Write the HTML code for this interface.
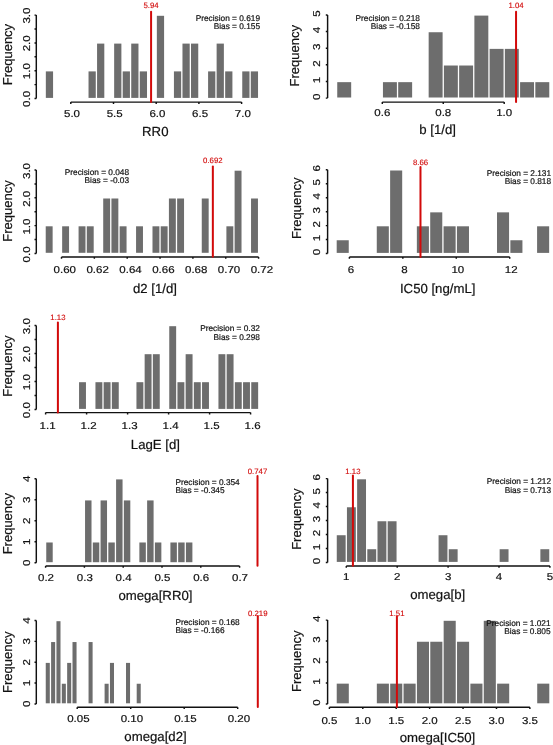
<!DOCTYPE html>
<html><head><meta charset="utf-8"><title>Histograms</title>
<style>
html,body{margin:0;padding:0;background:#fff;}
svg{display:block;will-change:transform;}
text{font-family:"Liberation Sans", sans-serif;text-rendering:geometricPrecision;fill:#111;stroke:#111;stroke-width:0.2px;}
.t{font-size:10.0px;letter-spacing:0.0px;}
.l{font-size:13.2px;}
.fq{font-size:13px;}
.p{font-size:8.3px;}
.r{font-size:7.8px;fill:#d20a0a;stroke:#d20a0a;stroke-width:0.12px;}
</style></head><body>
<svg width="553" height="745" viewBox="0 0 553 745">
<rect width="553" height="745" fill="#fff"/>
<g fill="#6d6d6d"><rect x="45.83" y="71.4" width="7.24" height="26.5"/><rect x="88.53" y="71.4" width="7.24" height="26.5"/><rect x="97.07" y="43.6" width="7.24" height="54.3"/><rect x="114.15" y="43.6" width="7.24" height="54.3"/><rect x="122.69" y="71.4" width="7.24" height="26.5"/><rect x="131.23" y="43.6" width="7.24" height="54.3"/><rect x="139.77" y="71.4" width="7.24" height="26.5"/><rect x="156.85" y="15.8" width="7.24" height="82.1"/><rect x="173.93" y="71.4" width="7.24" height="26.5"/><rect x="182.47" y="43.6" width="7.24" height="54.3"/><rect x="191.01" y="43.6" width="7.24" height="54.3"/><rect x="208.09" y="71.4" width="7.24" height="26.5"/><rect x="216.63" y="43.6" width="7.24" height="54.3"/><rect x="225.17" y="71.4" width="7.24" height="26.5"/><rect x="242.25" y="71.4" width="7.24" height="26.5"/><rect x="250.79" y="71.4" width="7.24" height="26.5"/></g>
<path d="M36.3 15.1V98.5M36.3 98.5H34.5M36.3 84.6H34.5M36.3 70.7H34.5M36.3 56.8H34.5M36.3 42.9H34.5M36.3 29H34.5M36.3 15.1H34.5M70.8 102.1H241.6M70.8 102.1V103.9M113.5 102.1V103.9M156.2 102.1V103.9M198.9 102.1V103.9M241.6 102.1V103.9" stroke="#111" stroke-width="1.45" fill="none"/>
<text class="t" transform="translate(29.5 98.5) rotate(-90) scale(1.15 1)" x="-0.4" text-anchor="middle">0.0</text>
<text class="t" transform="translate(29.5 70.7) rotate(-90) scale(1.15 1)" x="-0.4" text-anchor="middle">1.0</text>
<text class="t" transform="translate(29.5 42.9) rotate(-90) scale(1.15 1)" x="-0.4" text-anchor="middle">2.0</text>
<text class="t" transform="translate(29.5 15.1) rotate(-90) scale(1.15 1)" x="-0.4" text-anchor="middle">3.0</text>
<text class="t" transform="translate(72 116.8) scale(1.15 1)" text-anchor="middle">5.0</text>
<text class="t" transform="translate(114.7 116.8) scale(1.15 1)" text-anchor="middle">5.5</text>
<text class="t" transform="translate(157.4 116.8) scale(1.15 1)" text-anchor="middle">6.0</text>
<text class="t" transform="translate(200.1 116.8) scale(1.15 1)" text-anchor="middle">6.5</text>
<text class="t" transform="translate(242.8 116.8) scale(1.15 1)" text-anchor="middle">7.0</text>
<text class="l" x="155.3" y="135.6" text-anchor="middle">RR0</text>
<text class="fq" transform="translate(11.6 54.6) rotate(-90)" text-anchor="middle">Frequency</text>
<path d="M151.08 11.7V102" stroke="#d20a0a" stroke-width="2" stroke-linecap="round"/>
<text class="r" x="151.08" y="7.8" text-anchor="middle">5.94</text>
<text class="p" x="260" y="20.9" text-anchor="end">Precision = 0.619</text>
<text class="p" x="260" y="29" text-anchor="end">Bias = 0.155</text>
<g fill="#6d6d6d"><rect x="337.24" y="82.16" width="13.94" height="15.34"/><rect x="382.95" y="82.16" width="13.94" height="15.34"/><rect x="398.19" y="82.16" width="13.94" height="15.34"/><rect x="428.66" y="32.24" width="13.94" height="65.26"/><rect x="443.9" y="65.52" width="13.94" height="31.98"/><rect x="459.14" y="65.52" width="13.94" height="31.98"/><rect x="474.38" y="15.6" width="13.94" height="81.9"/><rect x="489.61" y="48.88" width="13.94" height="48.62"/><rect x="504.85" y="48.88" width="13.94" height="48.62"/><rect x="520.09" y="82.16" width="13.94" height="15.34"/><rect x="535.33" y="82.16" width="13.94" height="15.34"/></g>
<path d="M327.6 14.9V98.1M327.6 98.1H325.8M327.6 81.46H325.8M327.6 64.82H325.8M327.6 48.18H325.8M327.6 31.54H325.8M327.6 14.9H325.8M382.3 102.1H504.2M382.3 102.1V103.9M443.25 102.1V103.9M504.2 102.1V103.9" stroke="#111" stroke-width="1.45" fill="none"/>
<text class="t" transform="translate(320 98.1) rotate(-90) scale(1.15 1)" x="1.2" text-anchor="middle">0</text>
<text class="t" transform="translate(320 81.46) rotate(-90) scale(1.15 1)" x="1.2" text-anchor="middle">1</text>
<text class="t" transform="translate(320 64.82) rotate(-90) scale(1.15 1)" x="1.2" text-anchor="middle">2</text>
<text class="t" transform="translate(320 48.18) rotate(-90) scale(1.15 1)" x="1.2" text-anchor="middle">3</text>
<text class="t" transform="translate(320 31.54) rotate(-90) scale(1.15 1)" x="1.2" text-anchor="middle">4</text>
<text class="t" transform="translate(320 14.9) rotate(-90) scale(1.15 1)" x="1.2" text-anchor="middle">5</text>
<text class="t" transform="translate(382.3 116.3) scale(1.15 1)" text-anchor="middle">0.6</text>
<text class="t" transform="translate(443.25 116.3) scale(1.15 1)" text-anchor="middle">0.8</text>
<text class="t" transform="translate(504.2 116.3) scale(1.15 1)" text-anchor="middle">1.0</text>
<text class="l" x="437.7" y="134.3" text-anchor="middle">b [1/d]</text>
<text class="fq" transform="translate(298.8 55.8) rotate(-90)" text-anchor="middle">Frequency</text>
<path d="M516.05 11.7V102" stroke="#d20a0a" stroke-width="2" stroke-linecap="round"/>
<text class="r" x="516.05" y="7.5" text-anchor="middle">1.04</text>
<text class="p" x="419.9" y="20.7" text-anchor="end">Precision = 0.218</text>
<text class="p" x="419.9" y="28.7" text-anchor="end">Bias = -0.158</text>
<g fill="#6d6d6d"><rect x="45.72" y="226.3" width="6.91" height="26.5"/><rect x="62.15" y="226.3" width="6.91" height="26.5"/><rect x="78.58" y="226.3" width="6.91" height="26.5"/><rect x="86.79" y="226.3" width="6.91" height="26.5"/><rect x="103.21" y="198.5" width="6.91" height="54.3"/><rect x="111.43" y="198.5" width="6.91" height="54.3"/><rect x="119.64" y="226.3" width="6.91" height="26.5"/><rect x="136.06" y="226.3" width="6.91" height="26.5"/><rect x="152.49" y="226.3" width="6.91" height="26.5"/><rect x="160.7" y="226.3" width="6.91" height="26.5"/><rect x="168.91" y="198.5" width="6.91" height="54.3"/><rect x="177.13" y="198.5" width="6.91" height="54.3"/><rect x="201.76" y="198.5" width="6.91" height="54.3"/><rect x="226.4" y="226.3" width="6.91" height="26.5"/><rect x="234.61" y="170.7" width="6.91" height="82.1"/><rect x="251.04" y="198.5" width="6.91" height="54.3"/></g>
<path d="M36.3 170V253.4M36.3 253.4H34.5M36.3 239.5H34.5M36.3 225.6H34.5M36.3 211.7H34.5M36.3 197.8H34.5M36.3 183.9H34.5M36.3 170H34.5M61.5 256.9H258.6M61.5 256.9V258.7M94.35 256.9V258.7M127.2 256.9V258.7M160.05 256.9V258.7M192.9 256.9V258.7M225.75 256.9V258.7M258.6 256.9V258.7" stroke="#111" stroke-width="1.45" fill="none"/>
<text class="t" transform="translate(29.5 253.4) rotate(-90) scale(1.15 1)" x="-0.9" text-anchor="middle">0.0</text>
<text class="t" transform="translate(29.5 225.6) rotate(-90) scale(1.15 1)" x="-0.9" text-anchor="middle">1.0</text>
<text class="t" transform="translate(29.5 197.8) rotate(-90) scale(1.15 1)" x="-0.9" text-anchor="middle">2.0</text>
<text class="t" transform="translate(29.5 170) rotate(-90) scale(1.15 1)" x="-0.9" text-anchor="middle">3.0</text>
<text class="t" transform="translate(64.8 272.7) scale(1.15 1)" text-anchor="middle">0.60</text>
<text class="t" transform="translate(97.65 272.7) scale(1.15 1)" text-anchor="middle">0.62</text>
<text class="t" transform="translate(130.5 272.7) scale(1.15 1)" text-anchor="middle">0.64</text>
<text class="t" transform="translate(163.35 272.7) scale(1.15 1)" text-anchor="middle">0.66</text>
<text class="t" transform="translate(196.2 272.7) scale(1.15 1)" text-anchor="middle">0.68</text>
<text class="t" transform="translate(229.05 272.7) scale(1.15 1)" text-anchor="middle">0.70</text>
<text class="t" transform="translate(261.9 272.7) scale(1.15 1)" text-anchor="middle">0.72</text>
<text class="l" x="154.9" y="293.1" text-anchor="middle">d2 [1/d]</text>
<text class="fq" transform="translate(11.6 211) rotate(-90)" text-anchor="middle">Frequency</text>
<path d="M212.85 166.4V256.8" stroke="#d20a0a" stroke-width="2" stroke-linecap="round"/>
<text class="r" x="212.85" y="163.2" text-anchor="middle">0.692</text>
<text class="p" x="129.1" y="175.3" text-anchor="end">Precision = 0.048</text>
<text class="p" x="129.1" y="182.8" text-anchor="end">Bias = -0.03</text>
<g fill="#6d6d6d"><rect x="336.69" y="240.25" width="12.06" height="12.65"/><rect x="376.77" y="226.3" width="12.06" height="26.6"/><rect x="390.13" y="170.5" width="12.06" height="82.4"/><rect x="416.85" y="226.3" width="12.06" height="26.6"/><rect x="430.21" y="212.35" width="12.06" height="40.55"/><rect x="443.57" y="226.3" width="12.06" height="26.6"/><rect x="456.93" y="226.3" width="12.06" height="26.6"/><rect x="497.01" y="212.35" width="12.06" height="40.55"/><rect x="510.37" y="240.25" width="12.06" height="12.65"/><rect x="537.09" y="226.3" width="12.06" height="26.6"/></g>
<path d="M327.6 169.8V253.5M327.6 253.5H325.8M327.6 239.55H325.8M327.6 225.6H325.8M327.6 211.65H325.8M327.6 197.7H325.8M327.6 183.75H325.8M327.6 169.8H325.8M349.4 257H509.72M349.4 257V258.8M402.84 257V258.8M456.28 257V258.8M509.72 257V258.8" stroke="#111" stroke-width="1.45" fill="none"/>
<text class="t" transform="translate(320 253.5) rotate(-90) scale(1.15 1)" x="1.2" text-anchor="middle">0</text>
<text class="t" transform="translate(320 239.55) rotate(-90) scale(1.15 1)" x="1.2" text-anchor="middle">1</text>
<text class="t" transform="translate(320 225.6) rotate(-90) scale(1.15 1)" x="1.2" text-anchor="middle">2</text>
<text class="t" transform="translate(320 211.65) rotate(-90) scale(1.15 1)" x="1.2" text-anchor="middle">3</text>
<text class="t" transform="translate(320 197.7) rotate(-90) scale(1.15 1)" x="1.2" text-anchor="middle">4</text>
<text class="t" transform="translate(320 183.75) rotate(-90) scale(1.15 1)" x="1.2" text-anchor="middle">5</text>
<text class="t" transform="translate(320 169.8) rotate(-90) scale(1.15 1)" x="1.2" text-anchor="middle">6</text>
<text class="t" transform="translate(350.9 272.5) scale(1.15 1)" text-anchor="middle">6</text>
<text class="t" transform="translate(404.34 272.5) scale(1.15 1)" text-anchor="middle">8</text>
<text class="t" transform="translate(457.78 272.5) scale(1.15 1)" text-anchor="middle">10</text>
<text class="t" transform="translate(511.22 272.5) scale(1.15 1)" text-anchor="middle">12</text>
<text class="l" x="437.7" y="293" text-anchor="middle">IC50 [ng/mL]</text>
<text class="fq" transform="translate(300.8 208.25) rotate(-90)" text-anchor="middle">Frequency</text>
<path d="M420.48 166.9V256.9" stroke="#d20a0a" stroke-width="2" stroke-linecap="round"/>
<text class="r" x="420.48" y="164.6" text-anchor="middle">8.66</text>
<text class="p" x="551.1" y="176" text-anchor="end">Precision = 2.131</text>
<text class="p" x="551.1" y="184" text-anchor="end">Bias = 0.818</text>
<g fill="#6d6d6d"><rect x="79.05" y="382.2" width="6.9" height="26.7"/><rect x="95.45" y="382.2" width="6.9" height="26.7"/><rect x="103.65" y="382.2" width="6.9" height="26.7"/><rect x="111.85" y="382.2" width="6.9" height="26.7"/><rect x="136.45" y="382.2" width="6.9" height="26.7"/><rect x="144.65" y="354.2" width="6.9" height="54.7"/><rect x="152.85" y="354.2" width="6.9" height="54.7"/><rect x="169.25" y="326.2" width="6.9" height="82.7"/><rect x="177.45" y="382.2" width="6.9" height="26.7"/><rect x="185.65" y="354.2" width="6.9" height="54.7"/><rect x="193.85" y="382.2" width="6.9" height="26.7"/><rect x="202.05" y="382.2" width="6.9" height="26.7"/><rect x="218.45" y="354.2" width="6.9" height="54.7"/><rect x="226.65" y="354.2" width="6.9" height="54.7"/><rect x="234.85" y="382.2" width="6.9" height="26.7"/><rect x="243.05" y="382.2" width="6.9" height="26.7"/><rect x="251.25" y="382.2" width="6.9" height="26.7"/></g>
<path d="M36.3 325.5V409.5M36.3 409.5H34.5M36.3 395.5H34.5M36.3 381.5H34.5M36.3 367.5H34.5M36.3 353.5H34.5M36.3 339.5H34.5M36.3 325.5H34.5M45.6 412.6H250.6M45.6 412.6V414.4M86.6 412.6V414.4M127.6 412.6V414.4M168.6 412.6V414.4M209.6 412.6V414.4M250.6 412.6V414.4" stroke="#111" stroke-width="1.45" fill="none"/>
<text class="t" transform="translate(29.5 409.5) rotate(-90) scale(1.15 1)" x="-0.6" text-anchor="middle">0.0</text>
<text class="t" transform="translate(29.5 381.5) rotate(-90) scale(1.15 1)" x="-0.6" text-anchor="middle">1.0</text>
<text class="t" transform="translate(29.5 353.5) rotate(-90) scale(1.15 1)" x="-0.6" text-anchor="middle">2.0</text>
<text class="t" transform="translate(29.5 325.5) rotate(-90) scale(1.15 1)" x="-0.6" text-anchor="middle">3.0</text>
<text class="t" transform="translate(47.6 429) scale(1.15 1)" text-anchor="middle">1.1</text>
<text class="t" transform="translate(88.6 429) scale(1.15 1)" text-anchor="middle">1.2</text>
<text class="t" transform="translate(129.6 429) scale(1.15 1)" text-anchor="middle">1.3</text>
<text class="t" transform="translate(170.6 429) scale(1.15 1)" text-anchor="middle">1.4</text>
<text class="t" transform="translate(211.6 429) scale(1.15 1)" text-anchor="middle">1.5</text>
<text class="t" transform="translate(252.6 429) scale(1.15 1)" text-anchor="middle">1.6</text>
<text class="l" x="155.4" y="448.9" text-anchor="middle">LagE [d]</text>
<text class="fq" transform="translate(11.6 366.1) rotate(-90)" text-anchor="middle">Frequency</text>
<path d="M57.9 322.4V412.5" stroke="#d20a0a" stroke-width="2" stroke-linecap="round"/>
<text class="r" x="57.9" y="319.6" text-anchor="middle">1.13</text>
<text class="p" x="259.9" y="331.4" text-anchor="end">Precision = 0.32</text>
<text class="p" x="259.9" y="339.8" text-anchor="end">Bias = 0.298</text>
<g fill="#6d6d6d"><rect x="46.25" y="542.48" width="6.46" height="19.72"/><rect x="85.05" y="500.42" width="6.46" height="61.77"/><rect x="92.81" y="542.48" width="6.46" height="19.72"/><rect x="100.57" y="500.42" width="6.46" height="61.77"/><rect x="108.33" y="542.48" width="6.46" height="19.72"/><rect x="116.09" y="479.4" width="6.46" height="82.8"/><rect x="123.85" y="500.42" width="6.46" height="61.77"/><rect x="139.37" y="542.48" width="6.46" height="19.72"/><rect x="147.13" y="500.42" width="6.46" height="61.77"/><rect x="154.89" y="542.48" width="6.46" height="19.72"/><rect x="170.41" y="542.48" width="6.46" height="19.72"/><rect x="178.17" y="542.48" width="6.46" height="19.72"/><rect x="185.93" y="542.48" width="6.46" height="19.72"/></g>
<path d="M36.3 478.7V562.8M36.3 562.8H34.5M36.3 541.77H34.5M36.3 520.75H34.5M36.3 499.72H34.5M36.3 478.7H34.5M45.6 565.9H239.6M45.6 565.9V567.7M84.4 565.9V567.7M123.2 565.9V567.7M162 565.9V567.7M200.8 565.9V567.7M239.6 565.9V567.7" stroke="#111" stroke-width="1.45" fill="none"/>
<text class="t" transform="translate(29.5 562.8) rotate(-90) scale(1.15 1)" x="0" text-anchor="middle">0</text>
<text class="t" transform="translate(29.5 541.77) rotate(-90) scale(1.15 1)" x="0" text-anchor="middle">1</text>
<text class="t" transform="translate(29.5 520.75) rotate(-90) scale(1.15 1)" x="0" text-anchor="middle">2</text>
<text class="t" transform="translate(29.5 499.72) rotate(-90) scale(1.15 1)" x="0" text-anchor="middle">3</text>
<text class="t" transform="translate(29.5 478.7) rotate(-90) scale(1.15 1)" x="0" text-anchor="middle">4</text>
<text class="t" transform="translate(46 580.5) scale(1.15 1)" text-anchor="middle">0.2</text>
<text class="t" transform="translate(84.8 580.5) scale(1.15 1)" text-anchor="middle">0.3</text>
<text class="t" transform="translate(123.6 580.5) scale(1.15 1)" text-anchor="middle">0.4</text>
<text class="t" transform="translate(162.4 580.5) scale(1.15 1)" text-anchor="middle">0.5</text>
<text class="t" transform="translate(201.2 580.5) scale(1.15 1)" text-anchor="middle">0.6</text>
<text class="t" transform="translate(240 580.5) scale(1.15 1)" text-anchor="middle">0.7</text>
<text class="l" x="155.4" y="600.2" text-anchor="middle">omega[RR0]</text>
<text class="fq" transform="translate(11.6 523.65) rotate(-90)" text-anchor="middle">Frequency</text>
<path d="M257.5 475.9V565.8" stroke="#d20a0a" stroke-width="2" stroke-linecap="round"/>
<text class="r" x="257.5" y="473.8" text-anchor="middle">0.747</text>
<text class="p" x="175.4" y="484.6" text-anchor="start">Precision = 0.354</text>
<text class="p" x="175.4" y="492.5" text-anchor="start">Bias = -0.345</text>
<g fill="#6d6d6d"><rect x="336.77" y="535.23" width="8.88" height="26.67"/><rect x="346.95" y="507.27" width="8.88" height="54.63"/><rect x="357.13" y="479.3" width="8.88" height="82.6"/><rect x="367.31" y="549.22" width="8.88" height="12.68"/><rect x="377.49" y="521.25" width="8.88" height="40.65"/><rect x="387.67" y="521.25" width="8.88" height="40.65"/><rect x="438.57" y="535.23" width="8.88" height="26.67"/><rect x="448.75" y="549.22" width="8.88" height="12.68"/><rect x="499.65" y="549.22" width="8.88" height="12.68"/><rect x="540.37" y="549.22" width="8.88" height="12.68"/></g>
<path d="M327.6 478.6V562.5M327.6 562.5H325.8M327.6 548.52H325.8M327.6 534.53H325.8M327.6 520.55H325.8M327.6 506.57H325.8M327.6 492.58H325.8M327.6 478.6H325.8M346.3 565.9H549.9M346.3 565.9V567.7M397.2 565.9V567.7M448.1 565.9V567.7M499 565.9V567.7M549.9 565.9V567.7" stroke="#111" stroke-width="1.45" fill="none"/>
<text class="t" transform="translate(320 562.5) rotate(-90) scale(1.15 1)" x="1.2" text-anchor="middle">0</text>
<text class="t" transform="translate(320 548.52) rotate(-90) scale(1.15 1)" x="1.2" text-anchor="middle">1</text>
<text class="t" transform="translate(320 534.53) rotate(-90) scale(1.15 1)" x="1.2" text-anchor="middle">2</text>
<text class="t" transform="translate(320 520.55) rotate(-90) scale(1.15 1)" x="1.2" text-anchor="middle">3</text>
<text class="t" transform="translate(320 506.57) rotate(-90) scale(1.15 1)" x="1.2" text-anchor="middle">4</text>
<text class="t" transform="translate(320 492.58) rotate(-90) scale(1.15 1)" x="1.2" text-anchor="middle">5</text>
<text class="t" transform="translate(320 478.6) rotate(-90) scale(1.15 1)" x="1.2" text-anchor="middle">6</text>
<text class="t" transform="translate(346.3 579.9) scale(1.15 1)" text-anchor="middle">1</text>
<text class="t" transform="translate(397.2 579.9) scale(1.15 1)" text-anchor="middle">2</text>
<text class="t" transform="translate(448.1 579.9) scale(1.15 1)" text-anchor="middle">3</text>
<text class="t" transform="translate(499 579.9) scale(1.15 1)" text-anchor="middle">4</text>
<text class="t" transform="translate(549.9 579.9) scale(1.15 1)" text-anchor="middle">5</text>
<text class="l" x="437.7" y="599.4" text-anchor="middle">omega[b]</text>
<text class="fq" transform="translate(300.8 519.15) rotate(-90)" text-anchor="middle">Frequency</text>
<path d="M352.92 475.5V565.8" stroke="#d20a0a" stroke-width="2" stroke-linecap="round"/>
<text class="r" x="352.92" y="473.5" text-anchor="middle">1.13</text>
<text class="p" x="551.1" y="484" text-anchor="end">Precision = 1.212</text>
<text class="p" x="551.1" y="492.5" text-anchor="end">Bias = 0.713</text>
<g fill="#6d6d6d"><rect x="45.75" y="662.9" width="4.05" height="40.4"/><rect x="51.1" y="642.05" width="4.05" height="61.25"/><rect x="56.45" y="621.2" width="4.05" height="82.1"/><rect x="61.8" y="683.75" width="4.05" height="19.55"/><rect x="67.15" y="662.9" width="4.05" height="40.4"/><rect x="72.5" y="642.05" width="4.05" height="61.25"/><rect x="88.55" y="642.05" width="4.05" height="61.25"/><rect x="104.6" y="683.75" width="4.05" height="19.55"/><rect x="109.95" y="662.9" width="4.05" height="40.4"/><rect x="126" y="662.9" width="4.05" height="40.4"/><rect x="136.7" y="683.75" width="4.05" height="19.55"/></g>
<path d="M36.3 620.5V703.9M36.3 703.9H34.5M36.3 683.05H34.5M36.3 662.2H34.5M36.3 641.35H34.5M36.3 620.5H34.5M77.2 707.2H237.7M77.2 707.2V709M130.7 707.2V709M184.2 707.2V709M237.7 707.2V709" stroke="#111" stroke-width="1.45" fill="none"/>
<text class="t" transform="translate(29.5 703.9) rotate(-90) scale(1.15 1)" x="0" text-anchor="middle">0</text>
<text class="t" transform="translate(29.5 683.05) rotate(-90) scale(1.15 1)" x="0" text-anchor="middle">1</text>
<text class="t" transform="translate(29.5 662.2) rotate(-90) scale(1.15 1)" x="0" text-anchor="middle">2</text>
<text class="t" transform="translate(29.5 641.35) rotate(-90) scale(1.15 1)" x="0" text-anchor="middle">3</text>
<text class="t" transform="translate(29.5 620.5) rotate(-90) scale(1.15 1)" x="0" text-anchor="middle">4</text>
<text class="t" transform="translate(78.4 721.9) scale(1.15 1)" text-anchor="middle">0.05</text>
<text class="t" transform="translate(131.9 721.9) scale(1.15 1)" text-anchor="middle">0.10</text>
<text class="t" transform="translate(185.4 721.9) scale(1.15 1)" text-anchor="middle">0.15</text>
<text class="t" transform="translate(238.9 721.9) scale(1.15 1)" text-anchor="middle">0.20</text>
<text class="l" x="155.5" y="740.5" text-anchor="middle">omega[d2]</text>
<text class="fq" transform="translate(11.6 662.3) rotate(-90)" text-anchor="middle">Frequency</text>
<path d="M257.8 616.2V707.1" stroke="#d20a0a" stroke-width="2" stroke-linecap="round"/>
<text class="r" x="257.8" y="615.6" text-anchor="middle">0.219</text>
<text class="p" x="175.4" y="625.3" text-anchor="start">Precision = 0.168</text>
<text class="p" x="175.4" y="633.2" text-anchor="start">Bias = -0.166</text>
<g fill="#6d6d6d"><rect x="336.73" y="683.65" width="12.07" height="19.65"/><rect x="376.83" y="683.65" width="12.07" height="19.65"/><rect x="390.2" y="683.65" width="12.07" height="19.65"/><rect x="403.56" y="683.65" width="12.07" height="19.65"/><rect x="416.93" y="641.75" width="12.07" height="61.55"/><rect x="430.29" y="641.75" width="12.07" height="61.55"/><rect x="443.66" y="620.8" width="12.07" height="82.5"/><rect x="457.03" y="641.75" width="12.07" height="61.55"/><rect x="470.39" y="683.65" width="12.07" height="19.65"/><rect x="483.76" y="620.8" width="12.07" height="82.5"/><rect x="497.12" y="683.65" width="12.07" height="19.65"/><rect x="537.22" y="683.65" width="12.07" height="19.65"/></g>
<path d="M327.6 620.1V703.9M327.6 703.9H325.8M327.6 682.95H325.8M327.6 662H325.8M327.6 641.05H325.8M327.6 620.1H325.8M329.4 707.2H529.89M329.4 707.2V709M362.81 707.2V709M396.23 707.2V709M429.64 707.2V709M463.06 707.2V709M496.47 707.2V709M529.89 707.2V709" stroke="#111" stroke-width="1.45" fill="none"/>
<text class="t" transform="translate(320 703.9) rotate(-90) scale(1.15 1)" x="1.2" text-anchor="middle">0</text>
<text class="t" transform="translate(320 682.95) rotate(-90) scale(1.15 1)" x="1.2" text-anchor="middle">1</text>
<text class="t" transform="translate(320 662) rotate(-90) scale(1.15 1)" x="1.2" text-anchor="middle">2</text>
<text class="t" transform="translate(320 641.05) rotate(-90) scale(1.15 1)" x="1.2" text-anchor="middle">3</text>
<text class="t" transform="translate(320 620.1) rotate(-90) scale(1.15 1)" x="1.2" text-anchor="middle">4</text>
<text class="t" transform="translate(329.4 723.5) scale(1.15 1)" text-anchor="middle">0.5</text>
<text class="t" transform="translate(362.81 723.5) scale(1.15 1)" text-anchor="middle">1.0</text>
<text class="t" transform="translate(396.23 723.5) scale(1.15 1)" text-anchor="middle">1.5</text>
<text class="t" transform="translate(429.64 723.5) scale(1.15 1)" text-anchor="middle">2.0</text>
<text class="t" transform="translate(463.06 723.5) scale(1.15 1)" text-anchor="middle">2.5</text>
<text class="t" transform="translate(496.47 723.5) scale(1.15 1)" text-anchor="middle">3.0</text>
<text class="t" transform="translate(529.89 723.5) scale(1.15 1)" text-anchor="middle">3.5</text>
<text class="l" x="437.5" y="742.2" text-anchor="middle">omega[IC50]</text>
<text class="fq" transform="translate(300.8 661.2) rotate(-90)" text-anchor="middle">Frequency</text>
<path d="M396.9 616.4V707.1" stroke="#d20a0a" stroke-width="2" stroke-linecap="round"/>
<text class="r" x="396.9" y="615.6" text-anchor="middle">1.51</text>
<text class="p" x="550.6" y="626.2" text-anchor="end">Precision = 1.021</text>
<text class="p" x="550.6" y="634.2" text-anchor="end">Bias = 0.805</text>
</svg>
</body></html>
